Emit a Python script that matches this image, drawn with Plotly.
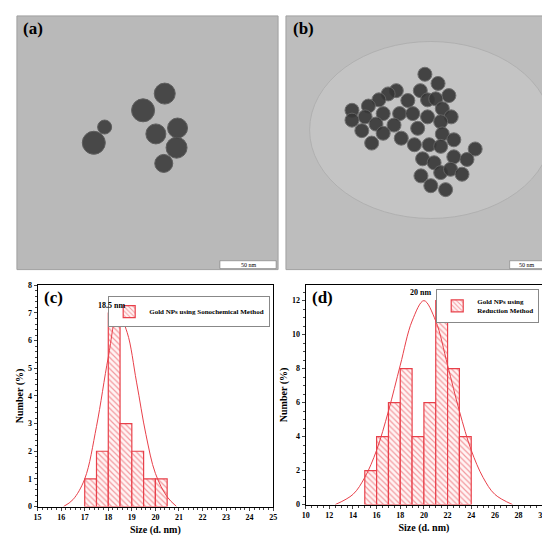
import plotly.graph_objects as go

# ---- histogram data ----
c_bins = [17.25, 17.75, 18.25, 18.75, 19.25, 19.75, 20.25]
c_counts = [1, 2, 7, 3, 2, 1, 1]
c_fit_x = [16.1, 16.5, 17.0, 17.5, 18.0, 18.4, 18.8, 19.2, 19.6, 20.0, 20.5, 20.9]
c_fit_y = [0.0, 0.25, 1.0, 2.9, 5.4, 7.0, 6.3, 4.5, 2.6, 1.2, 0.35, 0.0]

d_bins = [15.5, 16.5, 17.5, 18.5, 19.5, 20.5, 21.5, 22.5, 23.5]
d_counts = [2, 4, 6, 8, 4, 6, 12, 8, 4]
d_fit_x = [12.5, 14, 15, 16, 17, 18, 19, 20, 21, 22, 23, 24, 25, 26, 27.5]
d_fit_y = [0.0, 0.6, 1.6, 3.2, 5.5, 8.2, 10.8, 12.0, 10.8, 8.2, 5.5, 3.2, 1.6, 0.6, 0.0]

# ---- particle positions in TEM images (pixel coords) ----
a_px = [155, 133, 146, 168, 167, 154, 94, 83]
a_py = [83, 100, 124, 118, 138, 154, 117, 133]
a_sz = [21, 23, 20, 20, 21, 18, 14, 23]

b_zx = [432, 472, 505, 418, 345, 320, 292, 260, 210, 380, 440, 465, 485, 512, 305, 250, 210,
        355, 395, 440, 480, 283, 338, 410, 240, 305, 485, 520, 270, 400, 445, 480, 585, 425,
        460, 520, 560, 480, 510, 545, 420, 450, 495, 360]
b_zy = [190, 218, 255, 240, 240, 250, 268, 287, 300, 270, 268, 265, 295, 320, 310, 320, 330,
        310, 310, 320, 335, 342, 345, 355, 362, 370, 372, 390, 400, 405, 405, 410, 418, 448,
        460, 442, 450, 490, 480, 495, 500, 530, 542, 385]
b_px = [v / 3 + 275 for v in b_zx]
b_py = [v / 3 for v in b_zy]

W, H = 550, 536
def dx(a, b): return [a / W, b / W]
def dy(top, bot): return [1 - bot / H, 1 - top / H]

RED = "#e8404a"
serif = "Liberation Serif"

fig = go.Figure()

# TEM panels
fig.add_trace(go.Scatter(x=a_px, y=a_py, mode="markers", xaxis="x", yaxis="y", showlegend=False,
                         marker=dict(size=a_sz, color="#3c3c3c", opacity=0.9,
                                     line=dict(color="#555", width=1))))
fig.add_trace(go.Scatter(x=b_px, y=b_py, mode="markers", xaxis="x2", yaxis="y2", showlegend=False,
                         marker=dict(size=14, color="#363636", opacity=0.9,
                                     line=dict(color="#666", width=1))))

# histograms
fig.add_trace(go.Bar(x=c_bins, y=c_counts, width=0.5, xaxis="x3", yaxis="y3",
                     name="<b>Gold NPs using Sonochemical Method</b>", legend="legend",
                     marker=dict(color="white", line=dict(color=RED, width=1.2),
                                 pattern=dict(shape="\\", fgcolor=RED, bgcolor="#fff4f4", size=4, solidity=0.3))))
fig.add_trace(go.Scatter(x=c_fit_x, y=c_fit_y, mode="lines", line=dict(color=RED, width=1, shape="spline"),
                         xaxis="x3", yaxis="y3", showlegend=False))
fig.add_trace(go.Bar(x=d_bins, y=d_counts, width=1, xaxis="x4", yaxis="y4",
                     name="<b>Gold NPs using<br>Reduction Method</b>", legend="legend2",
                     marker=dict(color="white", line=dict(color=RED, width=1.2),
                                 pattern=dict(shape="\\", fgcolor=RED, bgcolor="#fff4f4", size=4, solidity=0.3))))
fig.add_trace(go.Scatter(x=d_fit_x, y=d_fit_y, mode="lines", line=dict(color=RED, width=1, shape="spline"),
                         xaxis="x4", yaxis="y4", showlegend=False))

img_ax = dict(showgrid=False, zeroline=False, showticklabels=False, ticks="")
tick_font = dict(family=serif, size=8, color="black", weight="bold")
title_font = dict(family=serif, size=10, color="black")
hist_ax = dict(showgrid=False, zeroline=False, ticks="outside", ticklen=3, showline=True, mirror=True,
               linecolor="black", linewidth=1, tickfont=tick_font, title_font=title_font,
               minor=dict(ticks="outside", ticklen=2))
leg_font = dict(family=serif, size=7, color="black")

fig.update_layout(
    width=W, height=H, margin=dict(l=0, r=0, t=0, b=0),
    paper_bgcolor="white", plot_bgcolor="white", barmode="overlay",
    xaxis=dict(domain=dx(5, 270), range=[5, 270], **img_ax),
    yaxis=dict(domain=dy(4, 262), range=[262, 4], **img_ax),
    xaxis2=dict(domain=dx(278, 543), range=[278, 543], **img_ax),
    yaxis2=dict(domain=dy(4, 262), range=[262, 4], **img_ax),
    xaxis3=dict(domain=dx(26, 265), range=[15, 25], dtick=1, title_text="<b>Size (d. nm)</b>",
                title_standoff=4, anchor="y3", **hist_ax),
    yaxis3=dict(domain=dy(278, 503), range=[0, 8], dtick=1, title_text="<b>Number (%)</b>",
                title_standoff=2, anchor="x3", **hist_ax),
    xaxis4=dict(domain=dx(298, 538), range=[10, 30], dtick=2, title_text="<b>Size (d. nm)</b>",
                title_standoff=4, anchor="y4", **hist_ax),
    yaxis4=dict(domain=dy(278, 501), range=[0, 12.9], dtick=2, title_text="<b>Number (%)</b>",
                title_standoff=2, anchor="x4", **hist_ax),
    legend=dict(x=262 / W, y=1 - 289 / H, xanchor="right", yanchor="top", bgcolor="white",
                bordercolor="#888", borderwidth=1, font=leg_font, itemwidth=30),
    legend2=dict(x=535 / W, y=1 - 282 / H, xanchor="right", yanchor="top", bgcolor="white",
                 bordercolor="#888", borderwidth=1, font=leg_font, itemwidth=30),
    shapes=[
        dict(type="rect", xref="paper", yref="paper", x0=5 / W, x1=270 / W, y0=1 - 262 / H, y1=1 - 4 / H,
             fillcolor="#b9b9b9", line=dict(color="#a0a0a0", width=1), layer="below"),
        dict(type="rect", xref="paper", yref="paper", x0=278 / W, x1=543 / W, y0=1 - 262 / H, y1=1 - 4 / H,
             fillcolor="#bdbdbd", line=dict(color="#a0a0a0", width=1), layer="below"),
        dict(type="circle", xref="x2", yref="y2", x0=302, x1=548, y0=30, y1=210,
             fillcolor="#c4c4c4", line=dict(color="#b0b0b0", width=1), layer="below"),
        dict(type="rect", xref="x", yref="y", x0=211, x1=268, y0=253, y1=261,
             fillcolor="white", line=dict(color="#666", width=0.5)),
        dict(type="rect", xref="x2", yref="y2", x0=505, x1=542, y0=253, y1=261,
             fillcolor="white", line=dict(color="#666", width=0.5)),
    ],
    annotations=[
        dict(text="<b>(a)</b>", x=9 / W, y=1 - 5 / H, xref="paper", yref="paper", xanchor="left", yanchor="top",
             showarrow=False, font=dict(family=serif, size=17, color="black")),
        dict(text="<b>(b)</b>", x=283 / W, y=1 - 5 / H, xref="paper", yref="paper", xanchor="left", yanchor="top",
             showarrow=False, font=dict(family=serif, size=17, color="black")),
        dict(text="<b>(c)</b>", x=30 / W, y=1 - 279 / H, xref="paper", yref="paper", xanchor="left", yanchor="top",
             showarrow=False, font=dict(family=serif, size=17, color="black")),
        dict(text="<b>(d)</b>", x=302 / W, y=1 - 279 / H, xref="paper", yref="paper", xanchor="left", yanchor="top",
             showarrow=False, font=dict(family=serif, size=17, color="black")),
        dict(text="<b>18.5 nm</b>", x=18.8, y=7.05, xref="x3", yref="y3", xanchor="right", yanchor="bottom",
             showarrow=False, font=dict(family=serif, size=8, color="black")),
        dict(text="<b>20 nm</b>", x=19.7, y=12.1, xref="x4", yref="y4", yanchor="bottom",
             showarrow=False, font=dict(family=serif, size=8, color="black")),
        dict(text="50 nm", x=240, y=257, xref="x", yref="y", showarrow=False,
             font=dict(family=serif, size=6, color="black")),
        dict(text="50 nm", x=523, y=257, xref="x2", yref="y2", showarrow=False,
             font=dict(family=serif, size=6, color="black")),
    ],
)

fig.write_html("out.html")
